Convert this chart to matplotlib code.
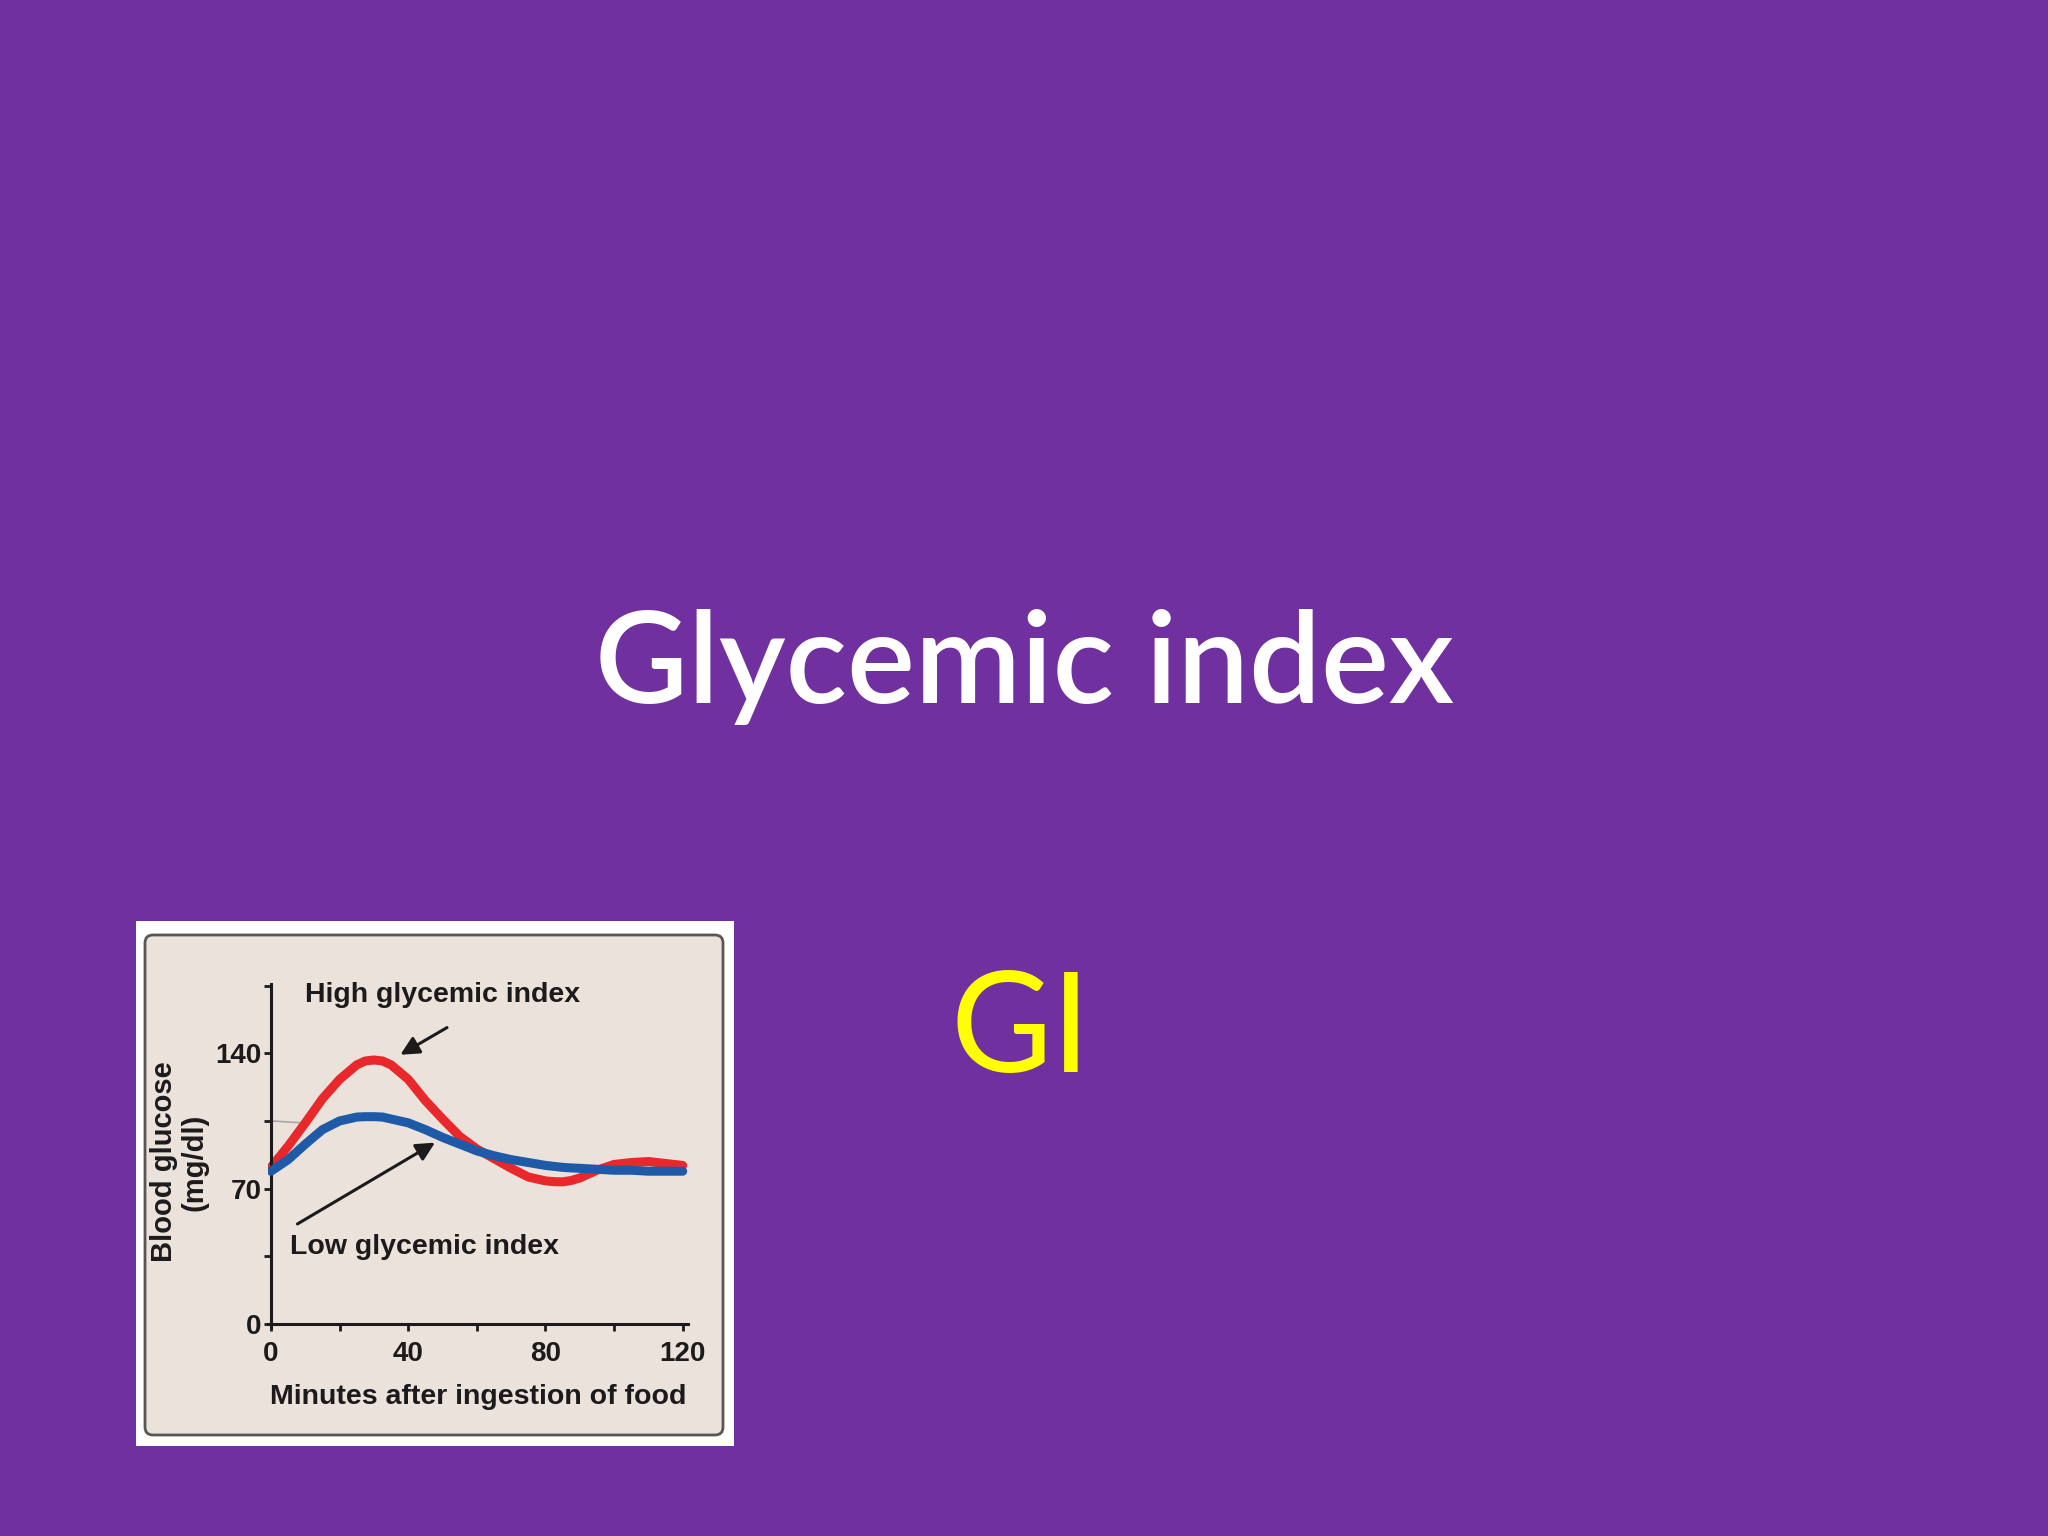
import matplotlib.pyplot as plt
import matplotlib.patches as patches

# data
minutes = [0, 5, 10, 15, 20, 25, 27.5, 30, 32.5, 35, 40, 45, 50, 55, 60, 65,
           70, 75, 80, 82.5, 85, 87.5, 90, 95, 100, 105, 110, 115, 120]
high_gi = [81, 92, 104, 116.5, 126.5, 134, 136, 136.5, 136, 134, 126.5, 115.5,
           106, 97, 90.5, 85.5, 80.5, 76, 74, 73.6, 73.5, 74.2, 75.5, 79.5,
           82.5, 83.5, 84, 83, 82]
low_gi = [79, 85, 93, 100.5, 105, 107, 107.2, 107.2, 107, 106, 104, 100.5,
          96.5, 93, 89.5, 87, 85, 83.5, 82, 81.5, 81, 80.7, 80.5, 80, 79.5,
          79.5, 79, 79, 79]
faint_x = [0, 9]
faint_y = [105, 104]

x_ticks = [0, 20, 40, 60, 80, 100, 120]
x_labels = ['0', '', '40', '', '80', '', '120']
y_ticks = [0, 35, 70, 105, 140, 175]
y_labels = ['0', '', '70', '', '140', '']

purple = '#7030A0'
ink = '#1c1a1a'
inset_font = 'Liberation Sans'

fig = plt.figure(figsize=(20.48, 15.36), dpi=100, facecolor=purple)

# slide texts
fig.text(0.5005, 0.566, 'Glycemic index', color='white', fontsize=92,
         family='Lato', fontweight='semibold', ha='center', va='center')
fig.text(0.4985, 0.328, 'GI', color='#ffff00', fontsize=100,
         family='Lato', fontweight='normal', ha='center', va='center')

# the pasted picture: white frame + beige panel
ax_bg = fig.add_axes([0, 0, 1, 1], facecolor='none')
ax_bg.set_xlim(0, 2048)
ax_bg.set_ylim(1536, 0)
ax_bg.axis('off')
ax_bg.add_patch(patches.Rectangle((136, 921), 598, 525, facecolor='white',
                                  edgecolor='none'))
ax_bg.add_patch(patches.FancyBboxPatch((145, 935), 578, 500,
                                       boxstyle='round,pad=0,rounding_size=8',
                                       facecolor='#eae2db', edgecolor='#5a5654',
                                       linewidth=2))

ax = fig.add_axes([0.13066, 0.13613, 0.2052, 0.2235], facecolor='none')
ax.plot(faint_x, faint_y, color='#a9a6a4', lw=1.2, zorder=1)
ax.plot(minutes, high_gi, color='#e8282b', lw=6.5, solid_capstyle='round',
        solid_joinstyle='round', zorder=2)
ax.plot(minutes, low_gi, color='#1f5aa8', lw=6.5, solid_capstyle='round',
        solid_joinstyle='round', zorder=3)

ax.set_xlim(-1, 121.5)
ax.set_ylim(-1.5, 176)
for s in ['top', 'right']:
    ax.spines[s].set_visible(False)
ax.spines['left'].set_position(('data', 0))
ax.spines['bottom'].set_position(('data', 0))
for s in ['left', 'bottom']:
    ax.spines[s].set_linewidth(2.2)
    ax.spines[s].set_color(ink)

ax.set_xticks(x_ticks)
ax.set_xticklabels(x_labels)
ax.set_yticks(y_ticks)
ax.set_yticklabels(y_labels)
ax.tick_params(axis='both', direction='out', length=5, width=2, color=ink,
               labelcolor=ink, labelsize=20)
ax.tick_params(axis='x', pad=7)
ax.tick_params(axis='y', pad=2)
for lab in ax.get_xticklabels() + ax.get_yticklabels():
    lab.set_family(inset_font)
    lab.set_fontweight('bold')

# annotations
ax.text(10, 170, 'High glycemic index', fontsize=20.5, fontweight='bold',
        family=inset_font, color=ink, ha='left', va='center')
ax.text(5.5, 40, 'Low glycemic index', fontsize=20.5, fontweight='bold',
        family=inset_font, color=ink, ha='left', va='center')
ax.annotate('', xy=(37, 138.5), xytext=(52, 154),
            arrowprops=dict(arrowstyle='-|>', lw=2.2, color=ink, mutation_scale=28))
ax.annotate('', xy=(48.5, 94.5), xytext=(7, 51),
            arrowprops=dict(arrowstyle='-|>', lw=2.2, color=ink, mutation_scale=28))

ax.text(60.5, -38, 'Minutes after ingestion of food', fontsize=20.5,
        fontweight='bold', family=inset_font, color=ink, ha='center',
        va='center', clip_on=False)
fig.text(0.0875, 0.2435, 'Blood glucose\n(mg/dl)', fontsize=21, rotation=90,
         fontweight='bold', family=inset_font, color=ink, ha='center',
         va='center', multialignment='center', linespacing=1.15)

fig.savefig('out.png', dpi=100, facecolor=purple)
